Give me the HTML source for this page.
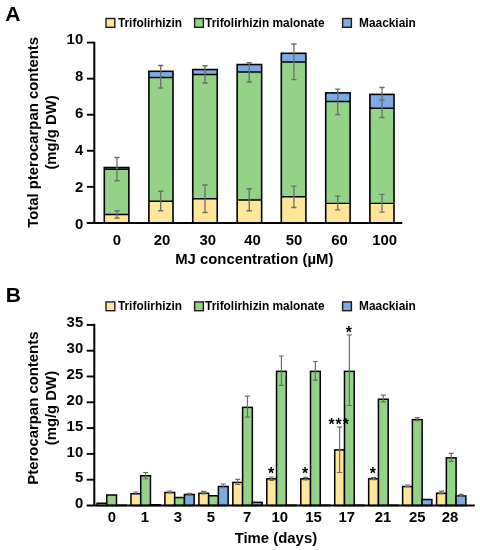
<!DOCTYPE html>
<html><head><meta charset="utf-8"><title>Pterocarpan contents</title>
<style>html,body{margin:0;padding:0;background:#fff}svg{display:block}</style></head>
<body><svg width="480" height="550" viewBox="0 0 480 550">
<rect width="480" height="550" fill="#fff"/>
<text x="5.2" y="21" font-size="21" text-anchor="start" font-family="Liberation Sans, Arial, sans-serif" font-weight="bold" >A</text>
<rect x="106.00" y="18.50" width="8.80" height="8.80" fill="#FFE699" stroke="#1c1c1c" stroke-width="1.4"/>
<text x="117.9" y="26.9" font-size="11.9" text-anchor="start" font-family="Liberation Sans, Arial, sans-serif" font-weight="bold" >Trifolirhizin</text>
<rect x="194.60" y="18.50" width="8.80" height="8.80" fill="#93D287" stroke="#1c1c1c" stroke-width="1.4"/>
<text x="205.1" y="26.9" font-size="11.9" text-anchor="start" font-family="Liberation Sans, Arial, sans-serif" font-weight="bold" >Trifolirhizin malonate</text>
<rect x="342.60" y="18.50" width="8.80" height="8.80" fill="#7EAAE3" stroke="#1c1c1c" stroke-width="1.4"/>
<text x="359.0" y="26.9" font-size="11.9" text-anchor="start" font-family="Liberation Sans, Arial, sans-serif" font-weight="bold" >Maackiain</text>
<rect x="104.30" y="214.50" width="24.60" height="8.40" fill="#FFE699"/>
<rect x="104.30" y="169.25" width="24.60" height="45.25" fill="#93D287"/>
<rect x="104.30" y="167.55" width="24.60" height="1.70" fill="#7EAAE3"/>
<path d="M104.30 169.25h24.60M104.30 214.50h24.60" stroke="#000" stroke-width="1.35" fill="none"/>
<rect x="104.30" y="167.55" width="24.60" height="55.35" fill="none" stroke="#000" stroke-width="1.6"/>
<rect x="148.90" y="201.25" width="24.10" height="21.65" fill="#FFE699"/>
<rect x="148.90" y="77.50" width="24.10" height="123.75" fill="#93D287"/>
<rect x="148.90" y="71.30" width="24.10" height="6.20" fill="#7EAAE3"/>
<path d="M148.90 77.50h24.10M148.90 201.25h24.10" stroke="#000" stroke-width="1.35" fill="none"/>
<rect x="148.90" y="71.30" width="24.10" height="151.60" fill="none" stroke="#000" stroke-width="1.6"/>
<rect x="192.75" y="198.75" width="24.50" height="24.15" fill="#FFE699"/>
<rect x="192.75" y="74.50" width="24.50" height="124.25" fill="#93D287"/>
<rect x="192.75" y="69.55" width="24.50" height="4.95" fill="#7EAAE3"/>
<path d="M192.75 74.50h24.50M192.75 198.75h24.50" stroke="#000" stroke-width="1.35" fill="none"/>
<rect x="192.75" y="69.55" width="24.50" height="153.35" fill="none" stroke="#000" stroke-width="1.6"/>
<rect x="237.15" y="200.00" width="24.50" height="22.90" fill="#FFE699"/>
<rect x="237.15" y="72.00" width="24.50" height="128.00" fill="#93D287"/>
<rect x="237.15" y="64.55" width="24.50" height="7.45" fill="#7EAAE3"/>
<path d="M237.15 72.00h24.50M237.15 200.00h24.50" stroke="#000" stroke-width="1.35" fill="none"/>
<rect x="237.15" y="64.55" width="24.50" height="158.35" fill="none" stroke="#000" stroke-width="1.6"/>
<rect x="281.30" y="196.70" width="24.60" height="26.20" fill="#FFE699"/>
<rect x="281.30" y="62.00" width="24.60" height="134.70" fill="#93D287"/>
<rect x="281.30" y="53.30" width="24.60" height="8.70" fill="#7EAAE3"/>
<path d="M281.30 62.00h24.60M281.30 196.70h24.60" stroke="#000" stroke-width="1.35" fill="none"/>
<rect x="281.30" y="53.30" width="24.60" height="169.60" fill="none" stroke="#000" stroke-width="1.6"/>
<rect x="325.70" y="203.40" width="24.40" height="19.50" fill="#FFE699"/>
<rect x="325.70" y="101.50" width="24.40" height="101.90" fill="#93D287"/>
<rect x="325.70" y="92.90" width="24.40" height="8.60" fill="#7EAAE3"/>
<path d="M325.70 101.50h24.40M325.70 203.40h24.40" stroke="#000" stroke-width="1.35" fill="none"/>
<rect x="325.70" y="92.90" width="24.40" height="130.00" fill="none" stroke="#000" stroke-width="1.6"/>
<rect x="369.90" y="203.40" width="24.10" height="19.50" fill="#FFE699"/>
<rect x="369.90" y="108.20" width="24.10" height="95.20" fill="#93D287"/>
<rect x="369.90" y="94.40" width="24.10" height="13.80" fill="#7EAAE3"/>
<path d="M369.90 108.20h24.10M369.90 203.40h24.10" stroke="#000" stroke-width="1.35" fill="none"/>
<rect x="369.90" y="94.40" width="24.10" height="128.50" fill="none" stroke="#000" stroke-width="1.6"/>
<path d="M117 157.5V180.75M114.4 157.5H119.6M114.4 180.75H119.6" stroke="#6c6c6c" stroke-width="1.3" fill="none"/>
<path d="M117 210.75V218M114.4 210.75H119.6M114.4 218H119.6" stroke="#6c6c6c" stroke-width="1.3" fill="none"/>
<path d="M160.7 65.5V88M158.1 65.5H163.29999999999998M158.1 88H163.29999999999998" stroke="#6c6c6c" stroke-width="1.3" fill="none"/>
<path d="M160.7 191.25V210.75M158.1 191.25H163.29999999999998M158.1 210.75H163.29999999999998" stroke="#6c6c6c" stroke-width="1.3" fill="none"/>
<path d="M205 65.75V83M202.4 65.75H207.6M202.4 83H207.6" stroke="#6c6c6c" stroke-width="1.3" fill="none"/>
<path d="M205 185V212.5M202.4 185H207.6M202.4 212.5H207.6" stroke="#6c6c6c" stroke-width="1.3" fill="none"/>
<path d="M249.25 62.75V82M246.65 62.75H251.85M246.65 82H251.85" stroke="#6c6c6c" stroke-width="1.3" fill="none"/>
<path d="M249.25 188.75V210.75M246.65 188.75H251.85M246.65 210.75H251.85" stroke="#6c6c6c" stroke-width="1.3" fill="none"/>
<path d="M293.9 44V79.6M291.29999999999995 44H296.5M291.29999999999995 79.6H296.5" stroke="#6c6c6c" stroke-width="1.3" fill="none"/>
<path d="M293.9 186.2V207.5M291.29999999999995 186.2H296.5M291.29999999999995 207.5H296.5" stroke="#6c6c6c" stroke-width="1.3" fill="none"/>
<path d="M337.7 89.2V114.6M335.09999999999997 89.2H340.3M335.09999999999997 114.6H340.3" stroke="#6c6c6c" stroke-width="1.3" fill="none"/>
<path d="M337.7 196.1V209.8M335.09999999999997 196.1H340.3M335.09999999999997 209.8H340.3" stroke="#6c6c6c" stroke-width="1.3" fill="none"/>
<path d="M382.0 87.5V117.5M379.4 87.5H384.6M379.4 117.5H384.6M379.4 100H384.6" stroke="#6c6c6c" stroke-width="1.3" fill="none"/>
<path d="M382.0 194.3V212.1M379.4 194.3H384.6M379.4 212.1H384.6" stroke="#6c6c6c" stroke-width="1.3" fill="none"/>
<path d="M94.3 41.65V223.9M86.7 222.9H402.3" stroke="#000" stroke-width="2" fill="none"/>
<text x="83.2" y="229.00" font-size="14.9" text-anchor="end" font-family="Liberation Sans, Arial, sans-serif" font-weight="bold" >0</text>
<path d="M87.0 186.84H94.3" stroke="#000" stroke-width="1.9"/>
<text x="83.2" y="191.92" font-size="14.9" text-anchor="end" font-family="Liberation Sans, Arial, sans-serif" font-weight="bold" >2</text>
<path d="M87.0 150.78H94.3" stroke="#000" stroke-width="1.9"/>
<text x="83.2" y="154.84" font-size="14.9" text-anchor="end" font-family="Liberation Sans, Arial, sans-serif" font-weight="bold" >4</text>
<path d="M87.0 114.72H94.3" stroke="#000" stroke-width="1.9"/>
<text x="83.2" y="117.76" font-size="14.9" text-anchor="end" font-family="Liberation Sans, Arial, sans-serif" font-weight="bold" >6</text>
<path d="M87.0 78.66H94.3" stroke="#000" stroke-width="1.9"/>
<text x="83.2" y="80.68" font-size="14.9" text-anchor="end" font-family="Liberation Sans, Arial, sans-serif" font-weight="bold" >8</text>
<path d="M87.0 42.60H94.3" stroke="#000" stroke-width="1.9"/>
<text x="83.2" y="43.60" font-size="14.9" text-anchor="end" font-family="Liberation Sans, Arial, sans-serif" font-weight="bold" >10</text>
<text x="117" y="245.2" font-size="14.9" text-anchor="middle" font-family="Liberation Sans, Arial, sans-serif" font-weight="bold" >0</text>
<text x="162" y="245.2" font-size="14.9" text-anchor="middle" font-family="Liberation Sans, Arial, sans-serif" font-weight="bold" >20</text>
<text x="207.8" y="245.2" font-size="14.9" text-anchor="middle" font-family="Liberation Sans, Arial, sans-serif" font-weight="bold" >30</text>
<text x="252.5" y="245.2" font-size="14.9" text-anchor="middle" font-family="Liberation Sans, Arial, sans-serif" font-weight="bold" >40</text>
<text x="294" y="245.2" font-size="14.9" text-anchor="middle" font-family="Liberation Sans, Arial, sans-serif" font-weight="bold" >50</text>
<text x="339.5" y="245.2" font-size="14.9" text-anchor="middle" font-family="Liberation Sans, Arial, sans-serif" font-weight="bold" >60</text>
<text x="384.6" y="245.2" font-size="14.9" text-anchor="middle" font-family="Liberation Sans, Arial, sans-serif" font-weight="bold" >100</text>
<text x="254.3" y="264" font-size="14.9" text-anchor="middle" font-family="Liberation Sans, Arial, sans-serif" font-weight="bold" >MJ concentration (µM)</text>
<g transform="translate(37.6,132.4) rotate(-90)">
<text x="0" y="0" font-size="14.9" text-anchor="middle" font-family="Liberation Sans, Arial, sans-serif" font-weight="bold" >Total pterocarpan contents</text>
<text x="0" y="18.7" font-size="14.9" text-anchor="middle" font-family="Liberation Sans, Arial, sans-serif" font-weight="bold" >(mg/g DW)</text>
</g>
<text x="5.8" y="302.1" font-size="21" text-anchor="start" font-family="Liberation Sans, Arial, sans-serif" font-weight="bold" >B</text>
<rect x="106.00" y="301.90" width="8.80" height="8.80" fill="#FFE699" stroke="#1c1c1c" stroke-width="1.4"/>
<text x="117.9" y="310.3" font-size="11.9" text-anchor="start" font-family="Liberation Sans, Arial, sans-serif" font-weight="bold" >Trifolirhizin</text>
<rect x="194.60" y="301.90" width="8.80" height="8.80" fill="#93D287" stroke="#1c1c1c" stroke-width="1.4"/>
<text x="205.1" y="310.3" font-size="11.9" text-anchor="start" font-family="Liberation Sans, Arial, sans-serif" font-weight="bold" >Trifolirhizin malonate</text>
<rect x="342.60" y="301.90" width="8.80" height="8.80" fill="#7EAAE3" stroke="#1c1c1c" stroke-width="1.4"/>
<text x="359.0" y="310.3" font-size="11.9" text-anchor="start" font-family="Liberation Sans, Arial, sans-serif" font-weight="bold" >Maackiain</text>
<rect x="97.00" y="503.25" width="9.75" height="2.25" fill="#FFE699" stroke="#000" stroke-width="1.5"/>
<rect x="106.75" y="495.00" width="9.75" height="10.50" fill="#93D287" stroke="#000" stroke-width="1.5"/>
<rect x="116.50" y="505.20" width="9.75" height="0.30" fill="#7EAAE3" stroke="#000" stroke-width="1.5"/>
<rect x="130.96" y="493.75" width="9.75" height="11.75" fill="#FFE699" stroke="#000" stroke-width="1.5"/>
<rect x="140.71" y="475.75" width="9.75" height="29.75" fill="#93D287" stroke="#000" stroke-width="1.5"/>
<rect x="150.46" y="504.75" width="9.75" height="0.75" fill="#7EAAE3" stroke="#000" stroke-width="1.5"/>
<rect x="164.92" y="492.50" width="9.75" height="13.00" fill="#FFE699" stroke="#000" stroke-width="1.5"/>
<rect x="174.67" y="497.55" width="9.75" height="7.95" fill="#93D287" stroke="#000" stroke-width="1.5"/>
<rect x="184.42" y="494.50" width="9.75" height="11.00" fill="#7EAAE3" stroke="#000" stroke-width="1.5"/>
<rect x="198.88" y="493.25" width="9.75" height="12.25" fill="#FFE699" stroke="#000" stroke-width="1.5"/>
<rect x="208.63" y="495.75" width="9.75" height="9.75" fill="#93D287" stroke="#000" stroke-width="1.5"/>
<rect x="218.38" y="486.45" width="9.75" height="19.05" fill="#7EAAE3" stroke="#000" stroke-width="1.5"/>
<rect x="232.84" y="482.45" width="9.75" height="23.05" fill="#FFE699" stroke="#000" stroke-width="1.5"/>
<rect x="242.59" y="407.35" width="9.75" height="98.15" fill="#93D287" stroke="#000" stroke-width="1.5"/>
<rect x="252.34" y="502.35" width="9.75" height="3.15" fill="#7EAAE3" stroke="#000" stroke-width="1.5"/>
<rect x="266.80" y="478.85" width="9.75" height="26.65" fill="#FFE699" stroke="#000" stroke-width="1.5"/>
<rect x="276.55" y="371.35" width="9.75" height="134.15" fill="#93D287" stroke="#000" stroke-width="1.5"/>
<rect x="286.30" y="505.20" width="9.75" height="0.30" fill="#7EAAE3" stroke="#000" stroke-width="1.5"/>
<rect x="300.76" y="478.85" width="9.75" height="26.65" fill="#FFE699" stroke="#000" stroke-width="1.5"/>
<rect x="310.51" y="371.35" width="9.75" height="134.15" fill="#93D287" stroke="#000" stroke-width="1.5"/>
<rect x="320.26" y="505.20" width="9.75" height="0.30" fill="#7EAAE3" stroke="#000" stroke-width="1.5"/>
<rect x="334.72" y="449.95" width="9.75" height="55.55" fill="#FFE699" stroke="#000" stroke-width="1.5"/>
<rect x="344.47" y="371.35" width="9.75" height="134.15" fill="#93D287" stroke="#000" stroke-width="1.5"/>
<rect x="354.22" y="505.20" width="9.75" height="0.30" fill="#7EAAE3" stroke="#000" stroke-width="1.5"/>
<rect x="368.68" y="478.85" width="9.75" height="26.65" fill="#FFE699" stroke="#000" stroke-width="1.5"/>
<rect x="378.43" y="399.25" width="9.75" height="106.25" fill="#93D287" stroke="#000" stroke-width="1.5"/>
<rect x="388.18" y="505.20" width="9.75" height="0.30" fill="#7EAAE3" stroke="#000" stroke-width="1.5"/>
<rect x="402.64" y="486.55" width="9.75" height="18.95" fill="#FFE699" stroke="#000" stroke-width="1.5"/>
<rect x="412.39" y="419.65" width="9.75" height="85.85" fill="#93D287" stroke="#000" stroke-width="1.5"/>
<rect x="422.14" y="499.50" width="9.75" height="6.00" fill="#7EAAE3" stroke="#000" stroke-width="1.5"/>
<rect x="436.60" y="493.25" width="9.75" height="12.25" fill="#FFE699" stroke="#000" stroke-width="1.5"/>
<rect x="446.35" y="457.85" width="9.75" height="47.65" fill="#93D287" stroke="#000" stroke-width="1.5"/>
<rect x="456.10" y="495.95" width="9.75" height="9.55" fill="#7EAAE3" stroke="#000" stroke-width="1.5"/>
<path d="M135.84 492.0V494.4M133.34 492.0H138.34M133.34 494.4H138.34" stroke="#6c6c6c" stroke-width="1.2" fill="none"/>
<path d="M145.59 472.5V478.75M143.09 472.5H148.09M143.09 478.75H148.09" stroke="#6c6c6c" stroke-width="1.2" fill="none"/>
<path d="M169.8 491.0V492.8M167.3 491.0H172.3M167.3 492.8H172.3" stroke="#6c6c6c" stroke-width="1.2" fill="none"/>
<path d="M189.3 493.4V495.2M186.8 493.4H191.8M186.8 495.2H191.8" stroke="#6c6c6c" stroke-width="1.2" fill="none"/>
<path d="M203.75 491.4V493.8M201.25 491.4H206.25M201.25 493.8H206.25" stroke="#6c6c6c" stroke-width="1.2" fill="none"/>
<path d="M223.25 484.0V487.6M220.75 484.0H225.75M220.75 487.6H225.75" stroke="#6c6c6c" stroke-width="1.2" fill="none"/>
<path d="M237.72 479.3V484.5M235.22 479.3H240.22M235.22 484.5H240.22" stroke="#6c6c6c" stroke-width="1.2" fill="none"/>
<path d="M247.47 396.2V417.2M244.97 396.2H249.97M244.97 417.2H249.97" stroke="#6c6c6c" stroke-width="1.2" fill="none"/>
<path d="M271.68 477.0V480.4M269.18 477.0H274.18M269.18 480.4H274.18" stroke="#6c6c6c" stroke-width="1.2" fill="none"/>
<path d="M281.43 356.0V385.4M278.93 356.0H283.93M278.93 385.4H283.93" stroke="#6c6c6c" stroke-width="1.2" fill="none"/>
<path d="M305.63 477.3V480.0M303.13 477.3H308.13M303.13 480.0H308.13" stroke="#6c6c6c" stroke-width="1.2" fill="none"/>
<path d="M315.38 361.5V380.2M312.88 361.5H317.88M312.88 380.2H317.88" stroke="#6c6c6c" stroke-width="1.2" fill="none"/>
<path d="M339.6 427.2V472.5M337.1 427.2H342.1M337.1 472.5H342.1" stroke="#6c6c6c" stroke-width="1.2" fill="none"/>
<path d="M349.35 335.0V405.5M346.85 335.0H351.85M346.85 405.5H351.85" stroke="#6c6c6c" stroke-width="1.2" fill="none"/>
<path d="M373.56 477.7V479.6M371.06 477.7H376.06M371.06 479.6H376.06" stroke="#6c6c6c" stroke-width="1.2" fill="none"/>
<path d="M383.31 395.2V401.9M380.81 395.2H385.81M380.81 401.9H385.81" stroke="#6c6c6c" stroke-width="1.2" fill="none"/>
<path d="M407.51 485.0V486.6M405.01 485.0H410.01M405.01 486.6H410.01" stroke="#6c6c6c" stroke-width="1.2" fill="none"/>
<path d="M417.26 417.6V420.6M414.76 417.6H419.76M414.76 420.6H419.76" stroke="#6c6c6c" stroke-width="1.2" fill="none"/>
<path d="M441.48 491.2V493.8M438.98 491.2H443.98M438.98 493.8H443.98" stroke="#6c6c6c" stroke-width="1.2" fill="none"/>
<path d="M451.23 453.4V461.3M448.73 453.4H453.73M448.73 461.3H453.73" stroke="#6c6c6c" stroke-width="1.2" fill="none"/>
<path d="M460.98 494.4V496.2M458.48 494.4H463.48M458.48 496.2H463.48" stroke="#6c6c6c" stroke-width="1.2" fill="none"/>
<path d="M94.3 323.75V506.5M86.7 505.5H474.8" stroke="#000" stroke-width="2" fill="none"/>
<text x="83.2" y="508.40" font-size="14.9" text-anchor="end" font-family="Liberation Sans, Arial, sans-serif" font-weight="bold" >0</text>
<path d="M86.7 479.70H94.3" stroke="#000" stroke-width="1.9"/>
<text x="83.2" y="482.46" font-size="14.9" text-anchor="end" font-family="Liberation Sans, Arial, sans-serif" font-weight="bold" >5</text>
<path d="M86.7 453.90H94.3" stroke="#000" stroke-width="1.9"/>
<text x="83.2" y="456.52" font-size="14.9" text-anchor="end" font-family="Liberation Sans, Arial, sans-serif" font-weight="bold" >10</text>
<path d="M86.7 428.10H94.3" stroke="#000" stroke-width="1.9"/>
<text x="83.2" y="430.58" font-size="14.9" text-anchor="end" font-family="Liberation Sans, Arial, sans-serif" font-weight="bold" >15</text>
<path d="M86.7 402.30H94.3" stroke="#000" stroke-width="1.9"/>
<text x="83.2" y="404.64" font-size="14.9" text-anchor="end" font-family="Liberation Sans, Arial, sans-serif" font-weight="bold" >20</text>
<path d="M86.7 376.50H94.3" stroke="#000" stroke-width="1.9"/>
<text x="83.2" y="378.70" font-size="14.9" text-anchor="end" font-family="Liberation Sans, Arial, sans-serif" font-weight="bold" >25</text>
<path d="M86.7 350.70H94.3" stroke="#000" stroke-width="1.9"/>
<text x="83.2" y="352.76" font-size="14.9" text-anchor="end" font-family="Liberation Sans, Arial, sans-serif" font-weight="bold" >30</text>
<path d="M86.7 324.90H94.3" stroke="#000" stroke-width="1.9"/>
<text x="83.2" y="326.82" font-size="14.9" text-anchor="end" font-family="Liberation Sans, Arial, sans-serif" font-weight="bold" >35</text>
<text x="112.0" y="522.1" font-size="14.9" text-anchor="middle" font-family="Liberation Sans, Arial, sans-serif" font-weight="bold" >0</text>
<text x="145.0" y="522.1" font-size="14.9" text-anchor="middle" font-family="Liberation Sans, Arial, sans-serif" font-weight="bold" >1</text>
<text x="178.0" y="522.1" font-size="14.9" text-anchor="middle" font-family="Liberation Sans, Arial, sans-serif" font-weight="bold" >3</text>
<text x="211.0" y="522.1" font-size="14.9" text-anchor="middle" font-family="Liberation Sans, Arial, sans-serif" font-weight="bold" >5</text>
<text x="247.2" y="522.1" font-size="14.9" text-anchor="middle" font-family="Liberation Sans, Arial, sans-serif" font-weight="bold" >7</text>
<text x="279.8" y="522.1" font-size="14.9" text-anchor="middle" font-family="Liberation Sans, Arial, sans-serif" font-weight="bold" >10</text>
<text x="313.6" y="522.1" font-size="14.9" text-anchor="middle" font-family="Liberation Sans, Arial, sans-serif" font-weight="bold" >15</text>
<text x="346.8" y="522.1" font-size="14.9" text-anchor="middle" font-family="Liberation Sans, Arial, sans-serif" font-weight="bold" >17</text>
<text x="383.0" y="522.1" font-size="14.9" text-anchor="middle" font-family="Liberation Sans, Arial, sans-serif" font-weight="bold" >21</text>
<text x="417.2" y="522.1" font-size="14.9" text-anchor="middle" font-family="Liberation Sans, Arial, sans-serif" font-weight="bold" >25</text>
<text x="450" y="522.1" font-size="14.9" text-anchor="middle" font-family="Liberation Sans, Arial, sans-serif" font-weight="bold" >28</text>
<text x="275.9" y="543.4" font-size="14.9" text-anchor="middle" font-family="Liberation Sans, Arial, sans-serif" font-weight="bold" >Time (days)</text>
<g transform="translate(37.6,408.1) rotate(-90)">
<text x="0" y="0" font-size="14.9" text-anchor="middle" font-family="Liberation Sans, Arial, sans-serif" font-weight="bold" >Pterocarpan contents</text>
<text x="0" y="18.7" font-size="14.9" text-anchor="middle" font-family="Liberation Sans, Arial, sans-serif" font-weight="bold" >(mg/g DW)</text>
</g>
<text x="271.1" y="479.4" font-size="15.8" text-anchor="middle" font-family="Liberation Sans, Arial, sans-serif" font-weight="bold" >*</text>
<text x="305.1" y="479.4" font-size="15.8" text-anchor="middle" font-family="Liberation Sans, Arial, sans-serif" font-weight="bold" >*</text>
<text x="372.8" y="479.4" font-size="15.8" text-anchor="middle" font-family="Liberation Sans, Arial, sans-serif" font-weight="bold" >*</text>
<text x="348.9" y="338.1" font-size="15.8" text-anchor="middle" font-family="Liberation Sans, Arial, sans-serif" font-weight="bold" >*</text>
<text x="339.15" y="429.7" font-size="15.8" text-anchor="middle" font-family="Liberation Sans, Arial, sans-serif" font-weight="bold" letter-spacing="0.9">***</text>
</svg></body></html>
